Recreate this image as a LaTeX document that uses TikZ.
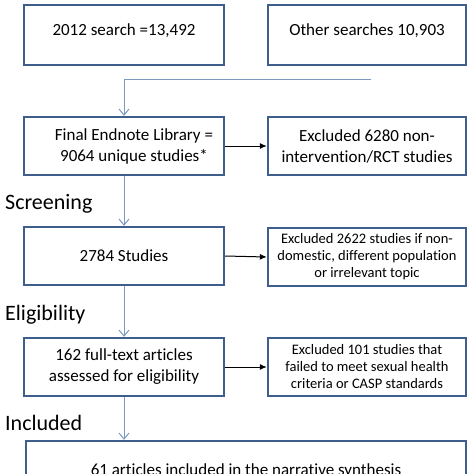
\documentclass[tikz,border=0pt]{standalone}
\usepackage{fontspec}
\setmainfont{Carlito}[Ligatures=NoCommon]
\usetikzlibrary{arrows.meta}
\definecolor{boxblue}{HTML}{3E5F8C}
\definecolor{linkblue}{HTML}{7C9AC0}
\begin{document}
\begin{tikzpicture}[x=1pt,y=-1pt,
  box/.style={draw=boxblue,line width=2.4pt,fill=white,minimum width=200pt,
    minimum height=58pt,inner sep=0pt,align=center,
    font=\fontsize{17}{21}\selectfont},
  rbox/.style={box,minimum width=198pt},
  smallbox/.style={rbox,font=\fontsize{14.5}{17}\selectfont},
  highline/.style={text height=11pt,text depth=11pt},
  flow/.style={draw=linkblue,line width=1pt,-{Straight Barb[length=6pt,width=10pt]}},
  excl/.style={draw=black,line width=1pt,-{Latex[length=7pt,width=6pt]}},
  stage/.style={anchor=west,inner sep=0pt,font=\fontsize{22}{26}\selectfont}]
\useasboundingbox (0,0) rectangle (474,474);
\clip (0,0) rectangle (474,474);

% boxes
\node[box,highline,minimum height=60pt] (b1) at (124,35) {2012 search =13,492};
\node[rbox,highline,minimum height=60pt] (b2) at (367,35) {Other searches 10,903};
\node[box] (b3) at (124,146) {\hspace*{20pt}Final Endnote Library =\\\hspace*{20pt}9064 unique studies*};
\node[rbox] (b4) at (367,146) {Excluded 6280 non-\\intervention/RCT studies};
\node[box] (b5) at (124,256) {2784 Studies};
\node[smallbox] (b6) at (367,257) {Excluded 2622 studies if non-\\domestic, different population\\or irrelevant topic};
\node[box] (b7) at (124,367) {162 full-text articles\\assessed for eligibility};
\node[smallbox] (b8) at (367,367) {Excluded 101 studies that\\failed to meet sexual health\\criteria or CASP standards};
\node[box,minimum width=440pt,minimum height=60pt] (b9) at (246,471) {61 articles included in the narrative synthesis};

% stage labels
\node[stage] (s1) at (5,204) {Screening};
\node[stage] (s2) at (5,315) {Eligibility};
\node[stage] (s3) at (5,423) {Included};

% connectors
\coordinate (m1) at (371,79);
\coordinate (m2) at (124,79);
\draw[flow] (m1) -- (m2) -- (b3.north);
\draw[flow] (b3.south) -- (b5.north);
\draw[flow] (b5.south) -- (b7.north);
\draw[flow] (b7.south) -- (b7.south |- b9.north);

\draw[excl] (b3.east) -- (b4.west);
\draw[excl] (b5.east) -- (b6.west);
\draw[excl] (b7.east) -- (b8.west);
\end{tikzpicture}
\end{document}
